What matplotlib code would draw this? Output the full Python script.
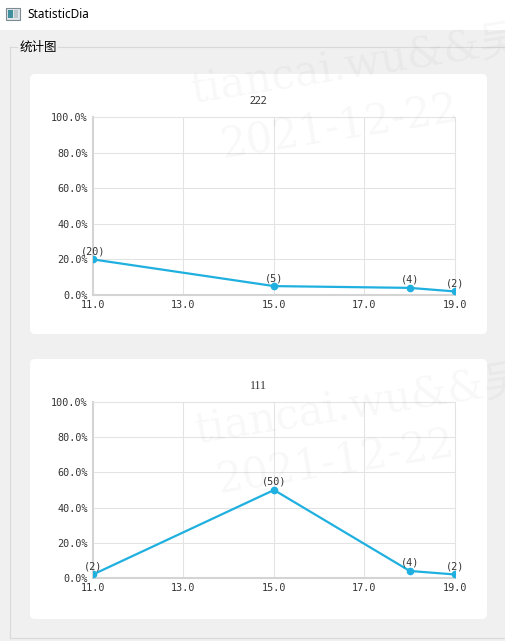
import matplotlib
matplotlib.use("Agg")
import matplotlib.pyplot as plt
from matplotlib.patches import Rectangle, FancyBboxPatch

# chart data
x_values = [11, 15, 18, 19]
top_values = [20, 5, 4, 2]
bottom_values = [2, 50, 4, 2]
top_counts = [20, 5, 4, 2]
bottom_counts = [2, 50, 4, 2]
top_title = "222"
bottom_title = "111"
x_ticks = [11, 13, 15, 17, 19]
y_ticks = [0, 20, 40, 60, 80, 100]
window_title = "StatisticDia"
group_title = "统计图"
watermark_name = "tiancai.wu&&吴"
watermark_date = "2021-12-22"

W, H = 506, 641
LINE = "#1fb0e0"
TEXT = "#333333"
GRID = "#e3e3e3"
AXIS = "#d4d4d4"
MONO = ["DejaVu Sans Mono", "Noto Sans CJK SC"]
WM_FONT = ["DejaVu Serif", "Noto Sans CJK SC"]

plt.rcParams["font.family"] = ["DejaVu Sans", "Noto Sans CJK SC"]

fig = plt.figure(figsize=(W / 100, H / 100), dpi=100)
fig.patch.set_facecolor("#f0f0f0")


def px_axes(x0, y0, x1, y1, **kw):
    """Axes placed by pixel box (top-left origin)."""
    return fig.add_axes([x0 / W, 1 - y1 / H, (x1 - x0) / W, (y1 - y0) / H], **kw)


def fx(x):
    return x / W


def fy(y):
    return 1 - y / H


# background: title bar, group box, white panels
bg = px_axes(0, 0, W, H)
bg.set_xlim(0, W)
bg.set_ylim(H, 0)
bg.axis("off")
bg.set_zorder(0)

bg.add_patch(Rectangle((0, 0), W, 30, fc="white", ec="none"))
bg.add_patch(Rectangle((6, 8), 14, 12, fc="#dfe5e8", ec="#7d8a94", lw=0.8))
bg.add_patch(Rectangle((8, 10), 5, 8, fc="#3f8f9c", ec="none"))
bg.add_patch(Rectangle((14, 10), 4, 8, fc="#b9c6cc", ec="none"))
bg.text(27, 15, window_title, fontsize=8.5, family="Noto Sans", color="black",
        va="center", ha="left")

gb = "#d9d9d9"
bg.plot([10, 10], [47, 638], color=gb, lw=0.8)
bg.plot([10, W], [638, 638], color=gb, lw=0.8)
bg.plot([10, 17], [47, 47], color=gb, lw=0.8)
bg.plot([58, W], [47, 47], color=gb, lw=0.8)
bg.text(20, 47, group_title, fontsize=9, family="Noto Sans CJK SC", color="black",
        va="center", ha="left")

for top, bottom in [(74, 334), (359, 619)]:
    bg.add_patch(FancyBboxPatch((30, top), 457, bottom - top,
                                boxstyle="round,pad=0,rounding_size=5",
                                fc="white", ec="none"))


def draw_chart(box, values, counts, title, title_y, title_font, title_size):
    ax = px_axes(*box)
    ax.set_zorder(2)
    ax.set_facecolor("none")
    ax.plot(x_values, values, color=LINE, lw=1.6, marker="o", ms=4.5,
            zorder=3)
    for xv, yv, c in zip(x_values, values, counts):
        ax.annotate("(%d)" % c, (xv, yv), xytext=(0, 8),
                    textcoords="offset pixels", ha="center", va="center",
                    fontsize=7.3, family=MONO, color=TEXT,
                    annotation_clip=False, zorder=5)
    ax.set_xlim(11, 19)
    ax.set_ylim(0, 100)
    ax.set_xticks(x_ticks)
    ax.set_xticklabels(["%.1f" % t for t in x_ticks])
    ax.set_yticks(y_ticks)
    ax.set_yticklabels(["%.1f%%" % t for t in y_ticks])
    ax.tick_params(length=0, labelsize=7.3, labelcolor=TEXT,
                   labelfontfamily="DejaVu Sans Mono")
    ax.tick_params(axis="y", pad=3.6)
    ax.tick_params(axis="x", pad=3.6)
    ax.grid(True, color=GRID, lw=0.75, zorder=0)
    ax.set_axisbelow(True)
    for side in ["left", "bottom"]:
        ax.spines[side].set_color(AXIS)
        ax.spines[side].set_linewidth(1.5)
    for side in ["top", "right"]:
        ax.spines[side].set_color(GRID)
        ax.spines[side].set_linewidth(0.75)
    fig.text(fx(258.5), fy(title_y), title, ha="center", va="center",
             fontsize=title_size, family=title_font, color=TEXT)
    return ax


draw_chart((93, 117, 455, 295), top_values, top_counts, top_title, 101,
           "Noto Sans", 7.5)
draw_chart((93, 402, 455, 578), bottom_values, bottom_counts, bottom_title, 386,
           "Liberation Serif", 8.5)

# faint rotated watermark over each chart (runs off the right edge as in the window)
for (x1, y1), (x2, y2) in [((193, 102), (222, 158)), ((197, 442), (218, 493))]:
    fig.text(fx(x1), fy(y1), watermark_name, rotation=9, rotation_mode="anchor",
             ha="left", va="baseline", fontsize=30, family=WM_FONT,
             color="black", alpha=0.032, zorder=10)
    fig.text(fx(x2), fy(y2), watermark_date, rotation=9, rotation_mode="anchor",
             ha="left", va="baseline", fontsize=30, family=WM_FONT,
             color="black", alpha=0.032, zorder=10)

fig.savefig("out.png", dpi=100, facecolor=fig.get_facecolor())
